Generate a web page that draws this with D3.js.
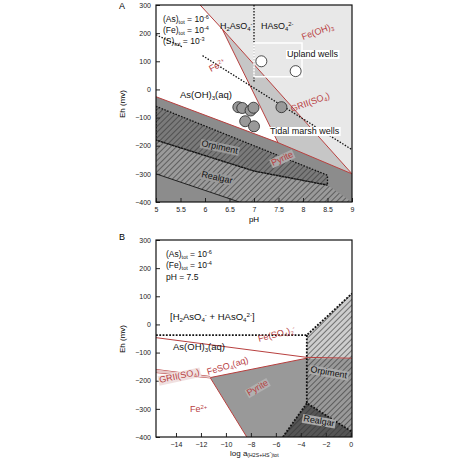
<!DOCTYPE html>
<html><head><meta charset="utf-8">
<script src="https://cdn.jsdelivr.net/npm/d3@7"></script>
<style>body{margin:0;background:#fff;font-family:"Liberation Sans",Arial,sans-serif}</style>
</head><body>
<script>
// Panel A: Eh-pH diagram
const phTicks = [5, 5.5, 6, 6.5, 7, 7.5, 8, 8.5, 9];
const ehTicks = [300, 200, 100, 0, -100, -200, -300, -400];
const lightRegionA = [[5.9, 300], [6.35, 215], [9, -300], [9, 300]];
const grRegionA = [[6.35, 215], [9, -300], [7.49, -189]];
const pyriteRegionA = [[5, -26], [7.49, -189], [9, -300], [9, -400], [5, -400]];
const orpimentA = [[5, -60], [8.5, -305], [8.5, -340], [7, -290], [5, -180]];
const realgarA = [[5, -180], [7, -290], [8.5, -340], [9, -400], [6.7, -400], [5, -300]];
const redLinesA = [
  [[5.9, 300], [6.35, 215], [7.49, -189]],
  [[6.35, 215], [9, -300]],
  [[5, -26], [7.49, -189], [9, -300]]
];
const dottedA = [[[7, 300], [7, 25]], [[5, 194], [5.55, 150]], [[5.95, 120], [9, -214]]];
const uplandWells = [[7.15, 100], [7.85, 65]];
const tidalWells = [[6.68, -63], [6.76, -66], [6.93, -75], [6.99, -65], [6.82, -113], [7.0, -131], [7.56, -63]];
const uplandBox = [[7.0, 165], [7.98, 45]];

// Panel B: Eh-log aH2S diagram
const sTicks = [-14, -12, -10, -8, -6, -4, -2, 0];
const ehTicksB = [300, 200, 100, 0, -100, -200, -300, -400];
const pyriteB = [[-11.26, -189], [-3.52, -120], [0.1, -120], [0.1, -400], [-8.33, -400]];
const orpLightB = [[-3.52, -38], [0.1, 110], [0.1, -120], [-3.52, -120]];
const orpimentB = [[-3.52, -38], [0.1, 110], [0.1, -381], [-3.52, -280]];
const realgarB = [[-3.52, -280], [0.1, -381], [0.1, -400], [-5.44, -400]];
const redLinesB = [
  [[-15.6, -47], [-3.52, -117], [0.1, -120]],
  [[-15.6, -160], [-11.26, -185]],
  [[-15.6, -171], [-11.26, -190]],
  [[-11.26, -189], [-3.52, -120]],
  [[-11.26, -189], [-8.33, -400]]
];
const dottedB = [
  [[-15.6, -38], [-3.52, -38], [0.1, 110]],
  [[-3.52, -38], [-3.52, -280], [0.1, -381]],
  [[-3.52, -280], [-5.44, -400]]
];

const RED = '#b8403f';
const svg = d3.select('body').append('svg').attr('width', 474).attr('height', 467);
const defs = svg.append('defs');
const hatch = defs.append('pattern').attr('id', 'hatch').attr('patternUnits', 'userSpaceOnUse')
  .attr('width', 4).attr('height', 4).attr('patternTransform', 'rotate(45)');
hatch.append('line').attr('x1', 0).attr('y1', 0).attr('x2', 0).attr('y2', 4)
  .attr('stroke', '#333').attr('stroke-width', 1.2);

function rich(g, x, y, parts, opt = {}) {
  const t = g.append('text').attr('x', x).attr('y', y)
    .attr('font-size', opt.size || 9.5).attr('fill', opt.color || '#111')
    .attr('text-anchor', opt.anchor || 'start');
  if (opt.rotate) t.attr('transform', `rotate(${opt.rotate},${x},${y})`);
  parts.forEach(p => {
    const [s, mode] = Array.isArray(p) ? p : [p, null];
    const ts = t.append('tspan').text(s);
    if (mode === 'sub') ts.attr('font-size', '65%').attr('baseline-shift', '-25%');
    if (mode === 'sup') ts.attr('font-size', '65%').attr('baseline-shift', '45%');
  });
  return t;
}
function boxLabel(g, x, y, parts, opt) {
  const t = rich(g, x, y, parts, opt);
  const b = t.node().getBBox();
  g.insert('rect', () => t.node()).attr('x', b.x - 1).attr('y', b.y + 1).attr('width', b.width + 2)
    .attr('height', b.height - 1).attr('fill', opt.bg).attr('transform', t.attr('transform'));
}

function panel(top, xDomain, xTicks, yTicksArr, clipId) {
  const x = d3.scaleLinear().domain(xDomain).range([156, 352]);
  const y = d3.scaleLinear().domain([300, -400]).range([top, top + 197]);
  defs.append('clipPath').attr('id', clipId).append('rect')
    .attr('x', 156).attr('y', top).attr('width', 196).attr('height', 197);
  const g = svg.append('g');
  const plot = g.append('g').attr('clip-path', `url(#${clipId})`);
  const line = d3.line().x(d => x(d[0])).y(d => y(d[1]));
  return { x, y, g, plot, line,
    poly: (pts, fill) => plot.append('path').attr('d', line(pts) + 'Z').attr('fill', fill),
    path: (pts, stroke, w, dash) => plot.append('path').attr('d', line(pts)).attr('fill', 'none')
      .attr('stroke', stroke).attr('stroke-width', w).attr('stroke-dasharray', dash || null),
    axes: () => {
      const ax = g.append('g').attr('transform', `translate(0,${top + 197})`)
        .call(d3.axisBottom(x).tickValues(xTicks).tickSize(-4).tickPadding(5)
          .tickFormat(d => d < 0 ? '\u2212' + Math.abs(d) : d));
      const ay = g.append('g').attr('transform', 'translate(156,0)')
        .call(d3.axisLeft(y).tickValues(yTicksArr).tickSize(-4).tickPadding(5)
          .tickFormat(d => d < 0 ? '\u2212' + Math.abs(d) : d));
      [ax, ay].forEach(a => { a.select('.domain').remove(); a.selectAll('text').attr('font-size', 7).attr('fill', '#222'); a.selectAll('line').attr('stroke', '#222'); });
      g.append('rect').attr('x', 156).attr('y', top).attr('width', 196).attr('height', 197)
        .attr('fill', 'none').attr('stroke', '#111').attr('stroke-width', 1.2);
    }
  };
}

// ----- Panel A -----
const A = panel(5, [5, 9], phTicks, ehTicks, 'clipA');
A.poly(lightRegionA, '#e8e8e8');
A.poly(grRegionA, '#c6c6c6');
A.poly(pyriteRegionA, '#8c8c8c');
A.poly(orpimentA, '#7a7a7a'); A.poly(orpimentA, 'url(#hatch)');
A.poly(realgarA, '#9a9a9a'); A.poly(realgarA, 'url(#hatch)');
A.path([[5, -300], [6.7, -400]], '#222', 1);
A.path(orpimentA.concat([orpimentA[0]]), '#111', 1.3, '1.5,1.5');
A.path([[5, -180], [7, -290], [8.5, -340]], '#111', 1.3, '1.5,1.5');
redLinesA.forEach(l => A.path(l, RED, 1));
dottedA.forEach(l => A.path(l, '#111', 1.3, '1.5,1.5'));
A.plot.append('rect').attr('x', A.x(uplandBox[0][0])).attr('y', A.y(uplandBox[0][1]))
  .attr('width', A.x(uplandBox[1][0]) - A.x(uplandBox[0][0])).attr('height', A.y(uplandBox[1][1]) - A.y(uplandBox[0][1]))
  .attr('fill', 'none').attr('stroke', '#fff').attr('stroke-width', 1.5);
A.plot.selectAll('.tw').data(tidalWells).join('circle').attr('cx', d => A.x(d[0])).attr('cy', d => A.y(d[1]))
  .attr('r', 5.5).attr('fill', '#999').attr('stroke', '#222').attr('stroke-width', 0.8);
A.plot.selectAll('.uw').data(uplandWells).join('circle').attr('cx', d => A.x(d[0])).attr('cy', d => A.y(d[1]))
  .attr('r', 5.5).attr('fill', '#fff').attr('stroke', '#222').attr('stroke-width', 0.8);
A.axes();
boxLabel(A.g, 287, 57, ['Upland wells'], { bg: '#fff', size: 9 });
boxLabel(A.g, 270, 134, ['Tidal marsh wells'], { bg: '#fff', size: 9 });
rich(A.g, 163, 22, ['(As)', ['tot', 'sub'], ' = 10', ['-6', 'sup']], { size: 8.5 });
rich(A.g, 163, 33, ['(Fe)', ['tot', 'sub'], ' = 10', ['-4', 'sup']], { size: 8.5 });
rich(A.g, 163, 44, ['(S)', ['tot', 'sub'], ' = 10', ['-3', 'sup']], { size: 8.5 });
rich(A.g, 220, 29, ['H', ['2', 'sub'], 'AsO', ['4', 'sub'], ['-', 'sup']], { size: 9 });
rich(A.g, 261, 29, ['HAsO', ['4', 'sub'], ['2-', 'sup']], { size: 9 });
rich(A.g, 303, 40, ['Fe(OH)', ['3', 'sub']], { size: 9, color: RED, rotate: -20 });
rich(A.g, 211, 72, ['Fe', ['2+', 'sup']], { size: 9, color: RED, rotate: -28 });
rich(A.g, 180, 98, ['As(OH)', ['3', 'sub'], '(aq)'], { size: 9.5 });
rich(A.g, 292, 112, ['GRII(SO', ['4', 'sub'], ')'], { size: 9, color: RED, rotate: -20 });
boxLabel(A.g, 201, 146, ['Orpiment'], { bg: '#999', size: 9, rotate: 12 });
boxLabel(A.g, 201, 177, ['Realgar'], { bg: '#999', size: 9, rotate: 12 });
boxLabel(A.g, 273, 166, ['Pyrite'], { bg: '#aaa', size: 9, color: RED, rotate: -25 });
A.g.append('text').attr('x', 254).attr('y', 222).attr('text-anchor', 'middle').attr('font-size', 8).text('pH');
A.g.append('text').attr('transform', 'translate(125,104) rotate(-90)').attr('text-anchor', 'middle').attr('font-size', 8).text('Eh (mv)');
A.g.append('text').attr('x', 119).attr('y', 9).attr('font-size', 9).text('A');

// ----- Panel B -----
const B = panel(240, [-15.6, 0.1], sTicks, ehTicksB, 'clipB');
B.poly(pyriteB, '#999');
B.poly(orpLightB, '#cdcdcd');
B.poly(orpimentB, 'url(#hatch)');
B.poly(realgarB, '#555'); B.poly(realgarB, 'url(#hatch)');
redLinesB.forEach(l => B.path(l, RED, 1));
B.poly([[-15.6, -160], [-11.26, -185], [-11.26, -190], [-15.6, -171]], '#e6c8c8');
dottedB.forEach(l => B.path(l, '#111', 1.8, '1.8,1.5'));
B.axes();
rich(B.g, 166, 257, ['(As)', ['tot', 'sub'], ' = 10', ['-6', 'sup']], { size: 8.5 });
rich(B.g, 166, 268, ['(Fe)', ['tot', 'sub'], ' = 10', ['-4', 'sup']], { size: 8.5 });
rich(B.g, 166, 280, ['pH = 7.5'], { size: 8.5 });
rich(B.g, 170, 320, ['[H', ['2', 'sub'], 'AsO', ['4', 'sub'], ['-', 'sup'], ' + HAsO', ['4', 'sub'], ['2-', 'sup'], ']'], { size: 9.5 });
rich(B.g, 173, 350, ['As(OH)', ['3', 'sub'], '(aq)'], { size: 9.5 });
rich(B.g, 259, 342, ['Fe(SO', ['4', 'sub'], ')', ['2', 'sub'], ['-', 'sup']], { size: 9, color: RED, rotate: -15 });
rich(B.g, 208, 375, ['FeSO', ['4', 'sub'], '(aq)'], { size: 9, color: RED, rotate: -17 });
boxLabel(B.g, 160, 383, ['GRII(SO', ['4', 'sub'], ')'], { bg: '#f0e0e0', size: 9, color: RED, rotate: -12 });
rich(B.g, 190, 412, ['Fe', ['2+', 'sup']], { size: 9, color: RED });
boxLabel(B.g, 249, 396, ['Pyrite'], { bg: '#b0b0b0', size: 9, color: RED, rotate: -30 });
boxLabel(B.g, 310, 372, ['Orpiment'], { bg: '#aaa', size: 9, rotate: 10 });
boxLabel(B.g, 303, 421, ['Realgar'], { bg: '#aaa', size: 9, rotate: 10 });
rich(B.g, 230, 456, ['log a', ['(H', 'sub'], ['2', 'sub'], ['S+HS', 'sub'], ['-', 'sup'], [')tot', 'sub']], { size: 8 });
B.g.append('text').attr('transform', 'translate(125,339) rotate(-90)').attr('text-anchor', 'middle').attr('font-size', 8).text('Eh (mv)');
B.g.append('text').attr('x', 119).attr('y', 240).attr('font-size', 9).text('B');
</script>
</body></html>
